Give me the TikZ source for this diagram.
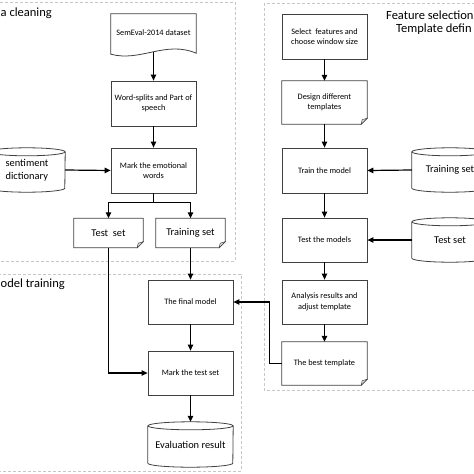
\documentclass[tikz,border=0pt]{standalone}
\usepackage{fontspec}
\setmainfont{Carlito}
\usetikzlibrary{arrows.meta,calc}
\newcommand\smallf{\fontsize{8.3}{10.5}\selectfont}
\newcommand\largef{\fontsize{10.4}{12.5}\selectfont}
\newcommand\titlef{\fontsize{12.5}{15}\selectfont}
\newcommand\drawnote[1]{%
  \draw[boxline] (#1.north west) -- (#1.north east) -- ($(#1.south east)+(0,-6)$) -- ($(#1.south east)+(-6,0)$) -- (#1.south west) -- cycle;
  \draw[boxline, fill=gray!25, line width=0.5pt] ($(#1.south east)+(-6,0)$) -- ($(#1.south east)+(0,-6)$) -- ($(#1.south east)+(-5,-4.5)$) -- cycle;}
\newcommand\drawcyl[2]{%
  \draw[boxline] ($(#1.north west)+(0,4)$) -- ($(#1.south west)+(0,-4)$) arc[start angle=180,end angle=360,x radius=#2pt,y radius=4pt] -- ($(#1.north east)+(0,4)$);
  \draw[boxline] ($(#1.north)+(0,4)$) ellipse[x radius=#2pt,y radius=4pt];}
\begin{document}
\begin{tikzpicture}[x=1pt,y=-1pt,
  boxline/.style={draw=black!75, line width=0.8pt},
  region/.style={draw=black!22, line width=0.6pt, dash pattern=on 3pt off 2pt},
  proc/.style={boxline, minimum width=85pt, minimum height=45pt, inner sep=1pt, align=center, font=\smallf},
  plain/.style={draw=none, minimum width=85pt, minimum height=45pt, inner sep=1pt, align=center, font=\smallf},
  cyltext/.style={draw=none, minimum width=76pt, minimum height=44pt, inner sep=1pt, align=center, font=\largef},
  notetext/.style={draw=none, minimum width=69pt, minimum height=29pt, inner sep=1pt, align=center, font=\largef},
  title/.style={font=\titlef, inner sep=0pt, anchor=west},
  link/.style={draw=black, line width=1.2pt},
  arr/.style={link, -{Triangle[length=6pt,width=5.5pt]}}
]
\useasboundingbox (0,0) rectangle (474,474);
\clip (0,0) rectangle (474,474);
% regions
\draw[region] (-5,2) rectangle (235,261);
\draw[region] (264,3) rectangle (480,390);
\draw[region] (-5,274) rectangle (241,471);
% titles
\node[title] (tclean) at (0.5,13) {a cleaning};
\node[title] (tfeat1) at (386,15) {Feature selection};
\node[title] (tfeat2) at (396,29) {Template defin};
\node[title] (tmodel) at (0.5,284) {odel training};
% left column
\node[plain, minimum height=38pt] (sem) at (153.5,33) {SemEval-2014 dataset};
\draw[boxline] (sem.north west) -- (sem.north east) -- ($(sem.south east)+(0,1)$) .. controls ($(sem.south)+(12,-12)$) and ($(sem.south)+(-13,10)$) .. ($(sem.south west)+(0,2)$) -- cycle;
\node[proc] (word) at (153.5,103.5) {Word-splits and Part of\\speech};
\node[proc] (mark) at (153.5,170.5) {Mark the emotional\\words};
\node[cyltext, align=left] (dict) at (27,170) {sentiment\\dictionary};
\drawcyl{dict}{38}
\node[notetext] (tset) at (108.5,233) {Test~ set};
\drawnote{tset}
\node[notetext] (trset) at (190.5,233) {Training set};
\drawnote{trset}
\node[proc, minimum height=44pt] (final) at (190.5,302) {The final model};
\node[proc, minimum height=44pt] (marktest) at (190.5,373) {Mark the test set};
\node[cyltext, minimum width=85pt, minimum height=45pt] (eval) at (190.5,444.5) {Evaluation result};
\drawcyl{eval}{42.5}
% right column
\node[proc] (sel) at (324.5,36.5) {Select~ features and\\choose window size};
\node[plain, minimum height=43pt] (design) at (324.5,102.5) {Design different\\templates};
\drawnote{design}
\node[proc] (train) at (324.5,170.5) {Train the model};
\node[cyltext] (trcyl) at (450,170) {Training set};
\drawcyl{trcyl}{38}
\node[proc, minimum height=44pt] (testm) at (324.5,240) {Test the models};
\node[cyltext] (tecyl) at (450,240) {Test set};
\drawcyl{tecyl}{38}
\node[proc, minimum height=44pt] (anal) at (324.5,302) {Analysis results and\\adjust template};
\node[plain, minimum height=43pt] (best) at (324.5,363.5) {The best template};
\drawnote{best}
% connectors
\draw[arr] (sem.south) -- (word.north);
\draw[arr] (word.south) -- (mark.north);
\draw[arr] (dict.east) -- (mark.west);
\coordinate (br) at ($(mark.south)+(0,9)$);
\draw[link] (mark.south) -- (br);
\draw[arr] (br) -| (tset.north);
\draw[arr] (br) -| (trset.north);
\draw[arr] (trset.south) -- (final.north);
\draw[arr] (tset.south) |- (marktest.west);
\draw[arr] (final.south) -- (marktest.north);
\draw[arr] (marktest.south) -- (eval.north);
\draw[arr] (sel.south) -- (design.north);
\draw[arr] (design.south) -- (train.north);
\draw[arr] (trcyl.west) -- (train.east);
\draw[arr] (train.south) -- (testm.north);
\draw[arr] (tecyl.west) -- (testm.east);
\draw[arr] (testm.south) -- (anal.north);
\draw[arr] (anal.south) -- (best.north);
\draw[arr] (best.west) -- ++(-12,0) |- (final.east);
\end{tikzpicture}
\end{document}
